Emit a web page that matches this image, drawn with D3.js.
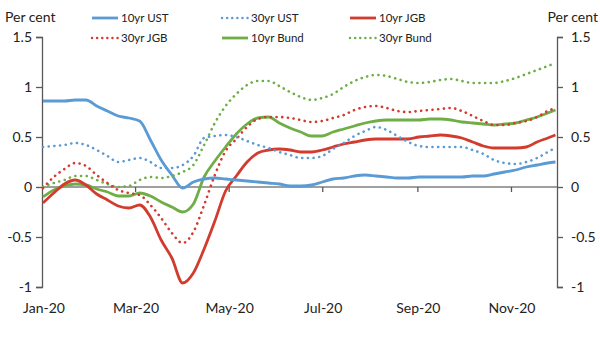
<!DOCTYPE html>
<html>
<head>
<meta charset="utf-8">
<script src="https://d3js.org/d3.v7.min.js"></script>
<style>
body { margin: 0; background: #fff; font-family: Lato, "Liberation Sans", sans-serif; }
text { fill: #222; }
</style>
</head>
<body>
<script>
// weekly observations, 2020
var dates = ["2020-01-01","2020-01-08","2020-01-15","2020-01-22","2020-01-29","2020-02-05","2020-02-12",
  "2020-02-19","2020-02-26","2020-03-04","2020-03-11","2020-03-18","2020-03-25","2020-04-01","2020-04-08",
  "2020-04-15","2020-04-22","2020-04-29","2020-05-06","2020-05-13","2020-05-20","2020-05-27","2020-06-03",
  "2020-06-10","2020-06-17","2020-06-24","2020-07-01","2020-07-08","2020-07-15","2020-07-22","2020-07-29",
  "2020-08-05","2020-08-12","2020-08-19","2020-08-26","2020-09-02","2020-09-09","2020-09-16","2020-09-23",
  "2020-09-30","2020-10-07","2020-10-14","2020-10-21","2020-10-28","2020-11-04","2020-11-11","2020-11-18",
  "2020-11-25","2020-11-30"];

var ust10 = [0.86,0.86,0.86,0.87,0.87,0.81,0.76,0.71,0.69,0.66,0.47,0.27,0.12,-0.01,0.05,0.08,0.09,0.08,
  0.07,0.06,0.05,0.04,0.03,0.01,0.01,0.02,0.05,0.08,0.09,0.11,0.12,0.11,0.10,0.09,0.09,0.10,0.10,0.10,
  0.10,0.10,0.11,0.11,0.13,0.15,0.17,0.20,0.22,0.24,0.25];
var ust30 = [0.40,0.41,0.42,0.44,0.42,0.37,0.31,0.25,0.27,0.29,0.25,0.19,0.19,0.22,0.31,0.49,0.51,0.52,
  0.50,0.46,0.42,0.39,0.35,0.32,0.29,0.29,0.31,0.38,0.44,0.51,0.56,0.60,0.57,0.51,0.45,0.41,0.40,0.40,
  0.40,0.40,0.37,0.33,0.27,0.24,0.23,0.25,0.29,0.35,0.39];
var jgb10 = [-0.16,-0.06,0.03,0.07,0.02,-0.07,-0.13,-0.19,-0.21,-0.18,-0.30,-0.53,-0.71,-0.96,-0.86,-0.62,
  -0.34,-0.04,0.11,0.25,0.34,0.37,0.38,0.37,0.35,0.35,0.37,0.40,0.43,0.45,0.47,0.48,0.48,0.48,0.48,0.50,
  0.51,0.52,0.51,0.49,0.45,0.41,0.39,0.39,0.39,0.40,0.45,0.49,0.52];
var jgb30 = [-0.01,0.10,0.18,0.24,0.21,0.12,0.04,-0.03,-0.06,-0.08,-0.18,-0.31,-0.46,-0.56,-0.45,-0.18,
  0.12,0.36,0.48,0.60,0.68,0.70,0.70,0.69,0.67,0.65,0.66,0.69,0.72,0.77,0.80,0.81,0.79,0.76,0.75,0.76,
  0.77,0.78,0.79,0.76,0.71,0.66,0.62,0.62,0.64,0.66,0.70,0.76,0.79];
var bund10 = [-0.10,-0.03,0.01,0.03,0.02,-0.02,-0.05,-0.09,-0.09,-0.06,-0.09,-0.15,-0.20,-0.25,-0.17,0.10,
  0.26,0.40,0.53,0.63,0.69,0.70,0.64,0.59,0.55,0.51,0.51,0.55,0.58,0.61,0.64,0.66,0.67,0.67,0.67,0.67,
  0.68,0.68,0.67,0.65,0.64,0.63,0.62,0.63,0.64,0.67,0.70,0.74,0.77];
var bund30 = [0.00,0.04,0.07,0.11,0.11,0.07,0.03,0.00,0.01,0.07,0.10,0.09,0.11,0.15,0.22,0.42,0.64,0.81,
  0.93,1.02,1.06,1.06,1.01,0.95,0.90,0.87,0.89,0.93,1.00,1.06,1.10,1.12,1.11,1.08,1.05,1.04,1.05,1.07,
  1.08,1.06,1.04,1.04,1.04,1.06,1.09,1.13,1.17,1.21,1.24];

var seriesNames = ["10yr UST","30yr UST","10yr JGB","30yr JGB","10yr Bund","30yr Bund"];
var yTicks = [-1,-0.5,0,0.5,1,1.5];
var xTicks = ["2020-03-01","2020-05-01","2020-07-01","2020-09-01","2020-11-01"];
var xLabels = ["2020-01-01"].concat(xTicks);

var blue = "#5b9bd5", red = "#d23b2d", green = "#6fae46";
var series = [
  {name: seriesNames[0], values: ust10, color: blue, dotted: false},
  {name: seriesNames[1], values: ust30, color: blue, dotted: true},
  {name: seriesNames[2], values: jgb10, color: red, dotted: false},
  {name: seriesNames[3], values: jgb30, color: red, dotted: true},
  {name: seriesNames[4], values: bund10, color: green, dotted: false},
  {name: seriesNames[5], values: bund30, color: green, dotted: true}
];

var width = 600, height = 338;
var plotLeft = 42, plotRight = 557, plotTop = 37, plotBottom = 287;
var parse = d3.timeParse("%Y-%m-%d");
var fmt = d3.timeFormat("%b-%y");
var numFmt = function(d) { return String(d); };  // plain hyphen for negatives

var svg = d3.select("body").append("svg")
  .attr("width", width).attr("height", height);

var x = d3.scaleTime()
  .domain([parse("2020-01-01"), parse("2020-12-01")])
  .range([plotLeft + 1, plotRight]);
var y = d3.scaleLinear().domain([-1, 1.5]).range([plotBottom, plotTop]);

// axes
var axisColor = "#595959";
var yl = svg.append("g").attr("transform", "translate(" + plotLeft + ",0)")
  .call(d3.axisLeft(y).tickValues(yTicks).tickSize(6).tickPadding(4).tickFormat(numFmt));
var yr = svg.append("g").attr("transform", "translate(" + plotRight + ",0)")
  .call(d3.axisRight(y).tickValues(yTicks).tickSize(6).tickPadding(8).tickFormat(numFmt));
[yl, yr].forEach(function(g) {
  g.select(".domain").attr("stroke", axisColor).attr("stroke-width", 1.3);
  g.selectAll(".tick line").attr("stroke", axisColor).attr("stroke-width", 1.3);
  g.selectAll("text").attr("font-size", 14).attr("font-family", "Lato").attr("fill", "#222");
});

var xa = svg.append("g").attr("transform", "translate(0," + y(0) + ")")
  .call(d3.axisBottom(x).tickValues(xTicks.map(parse)).tickSize(5).tickFormat(""));
xa.select(".domain").attr("d", "M" + plotLeft + ",0H" + plotRight).attr("stroke", "#7f7f7f").attr("stroke-width", 1.5);
xa.selectAll(".tick line").attr("stroke", axisColor).attr("stroke-width", 1.3);

svg.append("g").selectAll("text")
  .data(xLabels.map(parse))
  .join("text")
  .attr("x", function(d) { return x(d) + 1; })
  .attr("y", 313)
  .attr("text-anchor", "middle")
  .attr("font-size", 14)
  .text(fmt);

svg.append("text").attr("x", 5).attr("y", 22).attr("font-size", 14).text("Per cent");
svg.append("text").attr("x", 598).attr("y", 22).attr("font-size", 14)
  .attr("text-anchor", "end").text("Per cent");

// lines
var line = d3.line()
  .x(function(d, i) { return x(parse(dates[i])); })
  .y(function(d) { return y(d); })
  .curve(d3.curveMonotoneX);

var order = [4, 2, 0, 5, 3, 1];
svg.append("g").selectAll("path")
  .data(order.map(function(i) { return series[i]; }))
  .join("path")
  .attr("fill", "none")
  .attr("stroke", function(d) { return d.color; })
  .attr("stroke-width", function(d) { return d.dotted ? 2.6 : 2.8; })
  .attr("stroke-linecap", function(d) { return d.dotted ? "round" : "butt"; })
  .attr("stroke-dasharray", function(d) { return d.dotted ? "0.1 5.6" : null; })
  .attr("d", function(d) { return line(d.values); });

// legend
var legPos = [[92, 18], [222, 18], [350, 18], [92, 38], [222, 38], [350, 38]];
var leg = svg.append("g").selectAll("g")
  .data(series)
  .join("g")
  .attr("transform", function(d, i) { return "translate(" + legPos[i][0] + "," + legPos[i][1] + ")"; });
leg.append("line")
  .attr("x1", 0).attr("x2", 26).attr("y1", 0).attr("y2", 0)
  .attr("stroke", function(d) { return d.color; })
  .attr("stroke-width", function(d) { return d.dotted ? 2.4 : 2.8; })
  .attr("stroke-linecap", function(d) { return d.dotted ? "round" : "butt"; })
  .attr("stroke-dasharray", function(d) { return d.dotted ? "0.1 5" : null; });
leg.append("text")
  .attr("x", 29)
  .attr("y", 4)
  .attr("font-size", 11.5)
  .text(function(d) { return d.name; });
</script>
</body>
</html>
